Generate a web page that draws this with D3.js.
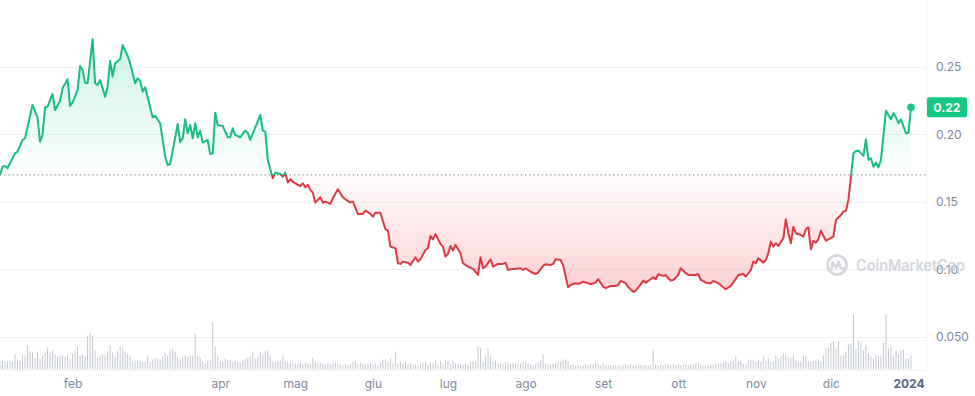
<!DOCTYPE html>
<html>
<head>
<meta charset="utf-8">
<script src="https://cdn.jsdelivr.net/npm/d3@7/dist/d3.min.js"></script>
<style>
  html, body { margin: 0; padding: 0; background: #ffffff; }
  svg { display: block; font-family: Inter, "Noto Sans", sans-serif; }
</style>
</head>
<body>
<svg id="chart" width="975" height="396"></svg>
<script>
// ---- DATA ----
// price observations: day offset from 2023-01-01, and price (USD)
const priceDays = [
  2,3,4,5,8,9,11,12,15,17, 18,19,20,21,23,24,26,27,29,30,
  31,33,34,35,36,37,39,40,41,42, 44,45,46,47,48,50,51,53,54,56,
  57,58,59,60,63,64,66,68,69,70, 73,74,75,76,77,78,79,80,81,82,
  83,85,86,87,88,89,91,93,94,95, 96,98,100,101,102,106,107,108,109,111,
  112,114,115,116,117,118,119,120,122,123, 124,125,126,127,128,130,131,132,134,135,
  137,139,140,142,143,145,147,148,150,151, 152,154,156,157,158,160,161,162,163,165,
  166,168,169,170,172,173,174,175,176,178, 179,180,181,182,183,184,186,187,189,191,
  193,194,195,196,198,199,201,203,204,205, 207,210,211,212,214,216,217,219,220,222,
  223,224,226,227,229,230,232,233,235,237, 238,240,241,243,244,246,248,249,250,252,
  253,255,256,258,259,260,262,263,264,265, 267,268,270,271,273,274,276,277,280,281,
  282,284,286,287,289,291,292,294,295,297, 299,300,302,303,304,305,307,308,309,310,
  311,312,313,315,316,317,318,319,320,322, 323,324,325,326,327,328,329,330,332,333,
  335,336,338,339,340,341,342,343,344,345, 347,348,349,350,351,352,353,354,356,357,
  358,359,360,361,362,364,365,366
];
const prices = [
  0.1699,0.1760,0.1765,0.1748,0.1859,0.1871,0.1958,0.1971,0.2217,0.2126, 0.1945,0.1995,0.2200,0.2205,0.2299,0.2180,0.2249,0.2341,0.2408,0.2210,
  0.2234,0.2328,0.2506,0.2477,0.2382,0.2378,0.2704,0.2378,0.2365,0.2402, 0.2279,0.2353,0.2545,0.2427,0.2526,0.2556,0.2662,0.2580,0.2526,0.2378,
  0.2415,0.2397,0.2316,0.2348,0.2126,0.2136,0.2082,0.1834,0.1773,0.1780, 0.2076,0.1941,0.1971,0.2111,0.2008,0.2069,0.1971,0.2082,0.1978,0.2027,
  0.1938,0.1958,0.1854,0.1859,0.2160,0.2069,0.2062,0.1978,0.1978,0.2045, 0.1995,0.1978,0.2027,0.2012,0.1958,0.2143,0.2027,0.2020,0.1810,0.1674,
  0.1716,0.1706,0.1686,0.1716,0.1642,0.1667,0.1649,0.1637,0.1617,0.1637, 0.1608,0.1625,0.1588,0.1568,0.1494,0.1534,0.1494,0.1501,0.1484,0.1526,
  0.1593,0.1534,0.1519,0.1494,0.1501,0.1410,0.1410,0.1434,0.1410,0.1390, 0.1419,0.1419,0.1297,0.1286,0.1168,0.1156,0.1045,0.1040,0.1057,0.1049,
  0.1032,0.1089,0.1057,0.1074,0.1143,0.1156,0.1247,0.1222,0.1262,0.1188, 0.1168,0.1094,0.1114,0.1173,0.1138,0.1180,0.1119,0.1045,0.1020,0.1003,
  0.0958,0.1089,0.1008,0.1020,0.1074,0.1020,0.1040,0.1040,0.1049,0.0995, 0.1003,0.1008,0.0995,0.1008,0.0982,0.0965,0.0975,0.1025,0.1037,0.1032,
  0.1040,0.1074,0.1069,0.1032,0.0867,0.0884,0.0897,0.0891,0.0908,0.0897, 0.0889,0.0901,0.0928,0.0871,0.0860,0.0877,0.0877,0.0884,0.0914,0.0897,
  0.0867,0.0834,0.0842,0.0888,0.0916,0.0901,0.0926,0.0941,0.0926,0.0963, 0.0951,0.0956,0.0916,0.0921,0.0958,0.1008,0.0971,0.0958,0.0958,0.0965,
  0.0921,0.0901,0.0897,0.0914,0.0897,0.0867,0.0852,0.0877,0.0901,0.0958, 0.0965,0.0945,0.0995,0.1057,0.1045,0.1082,0.1049,0.1069,0.1119,0.1205,
  0.1168,0.1193,0.1173,0.1230,0.1371,0.1267,0.1193,0.1316,0.1267,0.1254, 0.1242,0.1297,0.1311,0.1148,0.1212,0.1197,0.1222,0.1286,0.1212,0.1222,
  0.1242,0.1365,0.1402,0.1427,0.1434,0.1514,0.1682,0.1860,0.1877,0.1879, 0.1840,0.1963,0.1810,0.1822,0.1760,0.1790,0.1756,0.1810,0.2175,0.2143,
  0.2111,0.2156,0.2126,0.2082,0.2111,0.2008,0.2012,0.2200
];
// daily volume (relative units), one bar per day starting 2023-01-03
const volumeStart = "2023-01-03";
const volumes = [
  8,9,8,8,9,8,15,9,9,15, 13,24,18,17,11,18,11,14,17,21,
  17,19,15,13,14,14,13,14,11,16, 18,23,14,15,13,34,37,34,19,12,
  14,15,14,18,24,17,13,19,23,21, 18,16,14,9,9,9,9,8,8,13,
  7,10,12,11,10,13,17,14,19,21, 18,13,10,13,14,13,14,14,36,14,
  12,8,6,9,9,47,23,13,8,8, 11,9,10,8,9,8,7,9,11,12,
  13,18,11,13,18,15,19,20,14,8, 7,8,9,14,8,8,6,6,6,6,
  7,6,7,6,
  6,12,8,6,7,6,5,6,5,6, 7,6,5,4,5,4,5,8,9,6,
  7,6,5,6,7,5,6,4,7,10, 10,8,11,6,18,6,8,6,8,5,
  6,5,5,4,6,7,8,5,7,6, 9,5,8,6,9,8,5,9,6,6,
  5,5,6,5,8,8,8,23,21,8, 13,21,13,8,9,6,6,6,8,7,
  6,7,6,5,6,7,8,6,5,4, 5,7,9,15,6,5,5,6,6,7,
  8,10,10,8,5,5,4,5,4,4, 5,4,5,5,6,5,4,6,4,4,
  4,4,4,4,
  4,4,5,4,5,4,4,5,4,4, 4,4,5,19,5,4,5,4,5,5,
  4,5,4,5,4,5,5,4,5,5, 6,7,5,4,4,4,5,5,6,6,
  6,7,8,6,8,9,13,8,8,6, 5,9,10,9,8,10,8,13,9,11,
  7,8,14,11,13,16,14,12,12,14, 10,8,8,14,14,8,8,9,9,10,
  8,14,21,22,27,28,21,28,14,14, 18,25,26,55,21,29,27,19,24,16,
  13,11,14,14,14,27,55,21,23,14, 19,15,19,20,11,11,14
];
const priceTicks = [0.25, 0.20, 0.15, 0.10, 0.05];
const priceTickLabels = ["0.25", "0.20", "0.15", "0.10", "0.050"];
const timeTicks = ["2023-02-01","2023-04-01","2023-05-01","2023-06-01","2023-07-01","2023-08-01","2023-09-01","2023-10-01","2023-11-01","2023-12-01","2024-01-01"];
const timeTickLabels = ["feb","apr","mag","giu","lug","ago","set","ott","nov","dic","2024"];
const lastPriceLabel = "0.22";
const watermarkText = "CoinMarketCap";

// ---- SETUP ----
const svg = d3.select("#chart");
const plotRight = 926;
const volBase = 369.5;
const parse = d3.timeParse("%Y-%m-%d");
const day0 = new Date(2023, 0, 1);

const x = d3.scaleTime()
  .domain([new Date(2023, 0, 3), new Date(2024, 0, 8)])
  .range([0, plotRight]);
const y = d3.scaleLinear().domain([0.05, 0.25]).range([336.8, 66.8]);
const yV = d3.scaleLinear().domain([0, 100]).range([volBase, volBase - 100]);

const priceData = priceDays.map((d, i) => ({ date: d3.timeDay.offset(day0, d), v: prices[i] }));
const vStart = parse(volumeStart);
const volData = volumes.map((v, i) => ({ date: d3.timeDay.offset(vStart, i), v }));

const baseVal = prices[0];
const yBase = y(baseVal);

const GREEN = "#17bd81", RED = "#dd3a44", BOX = "#16c784";

const defs = svg.append("defs");
const gG = defs.append("linearGradient").attr("id", "gGreen")
  .attr("gradientUnits", "userSpaceOnUse").attr("x1", 0).attr("x2", 0)
  .attr("y1", y(0.272)).attr("y2", yBase);
gG.append("stop").attr("offset", 0).attr("stop-color", BOX).attr("stop-opacity", 0.22);
gG.append("stop").attr("offset", 1).attr("stop-color", BOX).attr("stop-opacity", 0.01);
const gR = defs.append("linearGradient").attr("id", "gRed")
  .attr("gradientUnits", "userSpaceOnUse").attr("x1", 0).attr("x2", 0)
  .attr("y1", yBase).attr("y2", y(0.083));
gR.append("stop").attr("offset", 0).attr("stop-color", "#ea3943").attr("stop-opacity", 0.01);
gR.append("stop").attr("offset", 1).attr("stop-color", "#ea3943").attr("stop-opacity", 0.24);

defs.append("clipPath").attr("id", "clipAbove").append("rect")
  .attr("x", -5).attr("y", 0).attr("width", plotRight + 10).attr("height", yBase);
defs.append("clipPath").attr("id", "clipBelow").append("rect")
  .attr("x", -5).attr("y", yBase).attr("width", plotRight + 10).attr("height", 396 - yBase);

// ---- GRID ----
svg.append("g").selectAll("line").data(priceTicks).join("line")
  .attr("x1", 0).attr("x2", plotRight)
  .attr("y1", d => Math.round(y(d)) + 0.5).attr("y2", d => Math.round(y(d)) + 0.5)
  .attr("stroke", "#eff2f5").attr("stroke-width", 1);

// right border line + bottom line
svg.append("line").attr("x1", plotRight + 0.5).attr("x2", plotRight + 0.5)
  .attr("y1", 0).attr("y2", 371).attr("stroke", "#eff2f5");
svg.append("line").attr("x1", 0).attr("x2", plotRight)
  .attr("y1", 370.5).attr("y2", 370.5).attr("stroke", "#f1f3f6");

// ---- VOLUME ----
svg.append("g").selectAll("rect").data(volData).join("rect")
  .attr("x", d => x(d.date) - 0.5)
  .attr("width", 1)
  .attr("y", d => yV(d.v))
  .attr("height", d => volBase - yV(d.v))
  .attr("fill", "#c3c8d0");

// ---- AREAS ----
const area = d3.area().x(d => x(d.date)).y0(yBase).y1(d => y(d.v));
svg.append("path").datum(priceData).attr("d", area)
  .attr("fill", "url(#gGreen)").attr("clip-path", "url(#clipAbove)");
svg.append("path").datum(priceData).attr("d", area)
  .attr("fill", "url(#gRed)").attr("clip-path", "url(#clipBelow)");

// baseline dotted
svg.append("line").attr("x1", 0).attr("x2", plotRight)
  .attr("y1", yBase).attr("y2", yBase)
  .attr("stroke", "#8a92a3").attr("stroke-width", 1.2)
  .attr("stroke-dasharray", "1.3,2.9");

// ---- LINES ----
const line = d3.line().x(d => x(d.date)).y(d => y(d.v));
svg.append("path").datum(priceData).attr("d", line)
  .attr("fill", "none").attr("stroke", GREEN).attr("stroke-width", 2)
  .attr("stroke-linejoin", "round").attr("clip-path", "url(#clipAbove)");
svg.append("path").datum(priceData).attr("d", line)
  .attr("fill", "none").attr("stroke", RED).attr("stroke-width", 2)
  .attr("stroke-linejoin", "round").attr("clip-path", "url(#clipBelow)");

// last point dot
const last = priceData[priceData.length - 1];
svg.append("circle").attr("cx", x(last.date)).attr("cy", y(last.v)).attr("r", 3.8).attr("fill", BOX);

// ---- Y AXIS LABELS (right) ----
const yAxis = d3.axisRight(y).tickValues(priceTicks)
  .tickFormat((d, i) => priceTickLabels[i]).tickSize(0).tickPadding(10);
const gy = svg.append("g").attr("transform", `translate(${plotRight},0)`).call(yAxis);
gy.select(".domain").remove();
gy.selectAll("text").attr("fill", "#808a9d").attr("font-size", 12)
  .attr("font-family", "Inter, sans-serif");

// ---- WATERMARK ----
const wm = svg.append("g").attr("transform", "translate(837,265)").attr("opacity", 0.85);
wm.append("circle").attr("r", 9.5).attr("fill", "none").attr("stroke", "#cdd1d7").attr("stroke-width", 2.6);
wm.append("path").attr("d", "M-5.5,4.5 L-4.5,-3 L-1,3 L1.5,-3.5 L3.5,2.5 Q5,4.5 7,3")
  .attr("fill", "none").attr("stroke", "#cdd1d7").attr("stroke-width", 2.4)
  .attr("stroke-linejoin", "round").attr("stroke-linecap", "round");
wm.append("text").attr("x", 19).attr("y", 0).attr("dy", "0.35em")
  .attr("font-size", 16).attr("font-weight", 600).attr("fill", "#cdd1d7")
  .attr("textLength", 109).attr("lengthAdjust", "spacingAndGlyphs")
  .text(watermarkText);

// last price box
const ly = y(last.v);
svg.append("rect").attr("x", 927).attr("y", ly - 10).attr("width", 40).attr("height", 20)
  .attr("rx", 2).attr("fill", BOX);
svg.append("text").attr("x", 947).attr("y", ly).attr("dy", "0.35em")
  .attr("text-anchor", "middle").attr("fill", "#ffffff")
  .attr("font-size", 12).attr("font-weight", 700).text(lastPriceLabel);

// ---- X AXIS ----
const xAxis = d3.axisBottom(x).tickValues(timeTicks.map(parse))
  .tickFormat((d, i) => timeTickLabels[i]).tickSize(0).tickPadding(9);
const gx = svg.append("g").attr("transform", `translate(0,${370})`).call(xAxis);
gx.select(".domain").remove();
gx.selectAll("text").attr("fill", "#808a9d").attr("font-size", 12)
  .attr("font-family", "Inter, sans-serif");
gx.selectAll("text").filter((d, i) => i === timeTickLabels.length - 1)
  .attr("fill", "#58667e").attr("font-weight", 700);
</script>
</body>
</html>
